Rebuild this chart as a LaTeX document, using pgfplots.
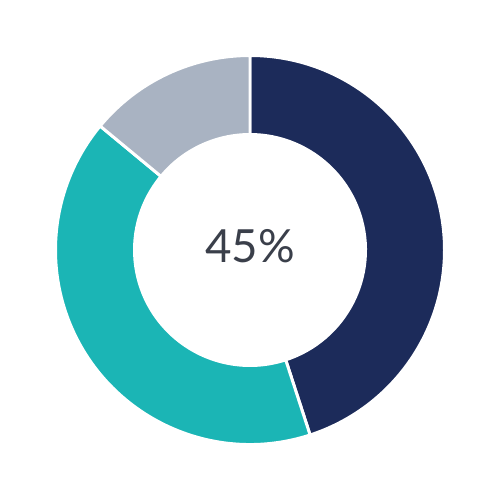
\documentclass[border=0pt]{standalone}
\usepackage{pgfplots}
\usepackage{pgfplotstable}
\pgfplotsset{compat=1.18}
\usepackage{fontspec}
\setmainfont{Lato}

\definecolor{navy}{HTML}{1C2B5A}
\definecolor{tealc}{HTML}{1BB5B5}
\definecolor{slate}{HTML}{A9B3C2}
\definecolor{txt}{HTML}{3A3F4A}

% share of each slice, clockwise from 12 o'clock
\pgfplotstableread{
share col
45 navy
41 tealc
14 slate
}\donut

\begin{document}
\begin{tikzpicture}
\begin{axis}[
    hide axis,
    x=1cm, y=1cm,
    xmin=-5, xmax=5,
    ymin=-5, ymax=5,
    clip=false,
]
% keep the whole square as the picture's extent
\path (axis cs:-5,-5) rectangle (axis cs:5,5);
\def\R{3.89}
\def\r{2.31}
\def\acc{0}
\pgfplotsforeachungrouped \i in {0,...,2}{%
    \pgfplotstablegetelem{\i}{share}\of\donut \let\v\pgfplotsretval
    \pgfplotstablegetelem{\i}{col}\of\donut \let\c\pgfplotsretval
    \pgfmathsetmacro\a{90-3.6*\acc}%
    \pgfmathsetmacro\b{90-3.6*(\acc+\v)}%
    \edef\temp{\noexpand\fill[\c, draw=white, line width=1.7pt]
        (axis cs:{\R*cos(\a)},{\R*sin(\a)})
        arc[start angle=\a, end angle=\b, radius=\R cm]
        -- (axis cs:{\r*cos(\b)},{\r*sin(\b)})
        arc[start angle=\b, end angle=\a, radius=\r cm] -- cycle;}%
    \temp
    \pgfmathsetmacro\acc{\acc+\v}%
}
\pgfplotstablegetelem{0}{share}\of\donut
\edef\temp{\noexpand\node[txt, font=\noexpand\fontsize{26}{30}\noexpand\selectfont]
    at (axis cs:0,0.07) {\pgfplotsretval\noexpand\%};}
\temp
\end{axis}
\end{tikzpicture}
\end{document}
